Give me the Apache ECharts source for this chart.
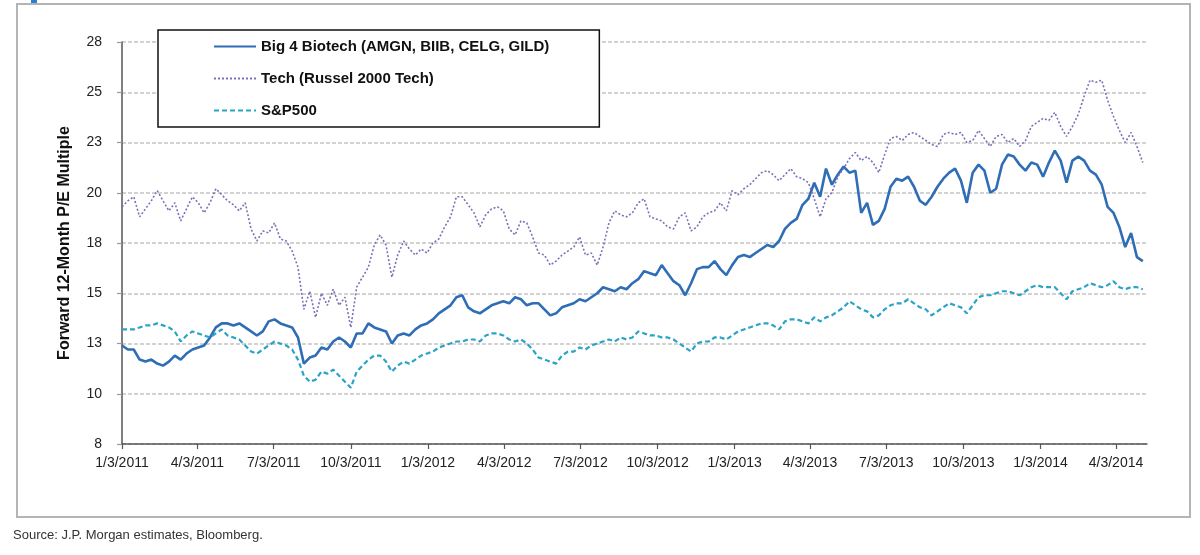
<!DOCTYPE html>
<html><head><meta charset="utf-8">
<script src="https://cdn.jsdelivr.net/npm/echarts@6/dist/echarts.min.js"></script>
<style>html,body{margin:0;padding:0;background:#fff}#c{width:1200px;height:555px}</style>
</head><body><div id="c"></div>
<script>
// x domain: calendar days from 1/3/2011; series sampled weekly
const startYear = 2011, startMonth = 0, startDay = 3;
const dayCount = 1224;
const sampleStepDays = 7;

const tickLabels = ['1/3/2011','4/3/2011','7/3/2011','10/3/2011','1/3/2012','4/3/2012','7/3/2012',
  '10/3/2012','1/3/2013','4/3/2013','7/3/2013','10/3/2013','1/3/2014','4/3/2014'];

const seriesNames = ['Big 4 Biotech (AMGN, BIIB, CELG, GILD)', 'Tech (Russel 2000 Tech)', 'S&P500'];

const biotech = [
12.4,12.2,12.2,11.7,11.6,11.7,11.5,11.4,11.6,11.9,
11.7,12.0,12.2,12.3,12.4,12.8,13.3,13.5,13.5,13.4,
13.5,13.3,13.1,12.9,13.1,13.6,13.7,13.5,13.4,13.3,
12.8,11.5,11.8,11.9,12.3,12.2,
12.6,12.8,12.6,12.3,
13.0,13.0,13.5,13.3,13.2,13.1,12.5,12.9,13.0,12.9,
13.2,13.4,13.5,13.7,14.0,14.2,14.4,14.8,14.9,14.3,
14.1,14.0,14.2,14.4,14.5,14.6,14.5,14.8,14.7,14.4,
14.5,
14.5,14.2,13.9,14.0,14.3,14.4,14.5,14.7,14.6,
14.8,15.0,15.3,15.2,15.1,15.3,15.2,15.5,15.7,16.1,
16.0,15.9,16.4,16.0,15.6,15.4,14.9,15.5,16.2,16.3,
16.3,16.6,16.2,15.9,16.4,16.8,
16.9,16.8,17.0,17.2,
17.4,17.3,17.6,18.2,18.5,18.7,19.4,19.7,20.5,19.8,
21.2,20.4,20.9,21.3,21.0,21.1,19.0,19.5,18.4,18.6,
19.2,20.3,20.7,20.6,20.8,20.3,19.6,19.4,19.8,20.3,
20.7,
21.0,21.2,20.6,19.5,21.0,21.4,21.1,20.0,20.2,
21.4,21.9,21.8,21.4,21.1,21.5,21.4,20.8,21.5,22.1,
21.6,20.5,21.6,21.8,21.6,21.1,20.9,20.4,19.3,19.0,
18.3,17.3,18.0,16.8,16.6
];

const tech = [
19.3,19.6,19.8,18.8,19.2,19.6,20.1,19.6,19.1,19.5,
18.6,19.2,19.8,19.5,19.0,19.5,20.2,19.9,19.6,19.4,
19.1,19.5,18.2,17.6,18.1,18.0,18.5,17.7,17.6,17.1,
16.3,14.2,15.1,13.8,15.0,14.4,
15.2,14.4,14.8,13.3,
15.3,15.8,16.3,17.4,17.9,17.4,15.8,16.9,17.6,17.2,
16.9,17.2,17.0,17.5,17.7,18.3,18.8,19.8,19.8,19.4,
19.0,18.3,18.9,19.2,19.3,19.1,18.2,17.9,18.6,18.5,
17.8,
17.0,16.9,16.4,16.6,16.9,17.1,17.3,17.8,16.9,
17.0,16.4,17.3,18.5,19.1,18.9,18.8,19.0,19.5,19.7,
18.8,18.7,18.6,18.3,18.2,18.8,19.0,18.1,18.3,18.8,
19.0,19.1,19.5,19.1,20.1,19.9,
20.2,20.4,20.7,21.0,
21.1,20.9,20.6,20.9,21.2,20.8,20.7,20.5,19.7,18.8,
19.7,20.0,20.8,21.2,21.7,22.0,21.6,21.8,21.5,21.0,
21.9,22.7,22.8,22.6,22.9,23.0,22.8,22.6,22.4,22.3,
22.9,
23.0,22.9,23.0,22.5,22.6,23.1,22.7,22.3,22.8,
22.9,22.5,22.7,22.3,22.6,23.3,23.5,23.7,23.6,24.0,
23.3,22.8,23.3,23.9,24.8,25.6,25.5,25.6,24.6,23.8,
23.1,22.5,23.0,22.3,21.5
];

const sp500 = [
13.2,13.2,13.2,13.3,13.4,13.4,13.5,13.4,13.3,13.1,
12.6,12.9,13.1,13.0,12.9,12.8,13.0,13.2,12.9,12.8,
12.7,12.4,12.1,12.0,12.2,12.4,12.6,12.5,12.4,12.2,
11.7,10.9,10.6,10.7,11.1,11.0,
11.2,10.9,10.6,10.3,
11.1,11.4,11.7,11.9,11.9,11.6,11.1,11.4,11.6,11.5,
11.7,11.9,12.0,12.1,12.3,12.4,12.5,12.6,12.6,12.7,
12.7,12.6,12.9,13.0,13.0,12.9,12.7,12.6,12.7,12.5,
12.2,
11.8,11.7,11.6,11.5,11.9,12.1,12.1,12.3,12.2,
12.4,12.5,12.6,12.7,12.6,12.8,12.7,12.8,13.1,13.0,
12.9,12.9,12.8,12.8,12.7,12.5,12.3,12.1,12.5,12.6,
12.6,12.8,12.8,12.7,12.9,13.1,
13.2,13.3,13.4,13.5,
13.5,13.4,13.2,13.6,13.7,13.7,13.6,13.5,13.8,13.6,
13.8,13.9,14.1,14.3,14.6,14.4,14.2,14.1,13.8,13.9,
14.2,14.4,14.5,14.5,14.7,14.5,14.3,14.2,13.9,14.1,
14.3,
14.5,14.4,14.3,14.0,14.4,14.8,14.9,14.9,15.0,
15.1,15.1,15.0,14.9,15.1,15.3,15.4,15.3,15.3,15.3,
15.0,14.7,15.1,15.2,15.3,15.5,15.4,15.3,15.4,15.6,
15.3,15.2,15.3,15.3,15.2
];

const categories = [];
for (let d = 0; d < dayCount; d++) {
  const dt = new Date(Date.UTC(startYear, startMonth, startDay + d));
  categories.push((dt.getUTCMonth() + 1) + '/' + dt.getUTCDate() + '/' + dt.getUTCFullYear());
}
const tickSet = new Set(tickLabels);
const toData = arr => arr.map((v, i) => [categories[i * sampleStepDays], v]);
const showTick = (idx, val) => tickSet.has(val);

const FONT = "'Liberation Sans', Arial, Helvetica, sans-serif";
const chart = echarts.init(document.getElementById('c'), null, {renderer: 'canvas'});
chart.setOption({
  animation: false,
  backgroundColor: '#fff',
  textStyle: {fontFamily: FONT},
  grid: {left: 122, right: 53, top: 42, bottom: 111, containLabel: false, outerBoundsMode: 'none'},
  legend: {
    data: seriesNames,
    orient: 'vertical',
    left: 158, top: 30,
    padding: [9, 50, 9, 55],
    itemGap: 17,
    itemWidth: 42, itemHeight: 14,
    borderColor: '#111', borderWidth: 1.5,
    backgroundColor: '#fff',
    align: 'left',
    itemStyle: {color: 'rgba(0,0,0,0)', borderWidth: 0, borderColor: 'rgba(0,0,0,0)'},
    textStyle: {fontSize: 15, fontWeight: 'bold', color: '#111', fontFamily: FONT}
  },
  xAxis: {
    type: 'category',
    data: categories,
    boundaryGap: false,
    axisLine: {lineStyle: {color: '#555', width: 1.5}},
    axisTick: {show: true, interval: showTick, length: 5, lineStyle: {color: '#555', width: 1.2}},
    axisLabel: {interval: showTick, fontSize: 14, color: '#222', margin: 12, fontFamily: FONT},
    splitLine: {show: false}
  },
  yAxis: {
    type: 'value',
    min: 7.5, max: 27.5, interval: 2.5,
    name: 'Forward 12-Month P/E Multiple',
    nameLocation: 'middle',
    nameRotate: 90,
    nameGap: 49,
    nameTextStyle: {fontSize: 16, fontWeight: 'bold', color: '#111', fontFamily: FONT},
    axisLine: {show: true, lineStyle: {color: '#555', width: 1.5}},
    axisTick: {show: true, length: 5, lineStyle: {color: '#999', width: 1.2}},
    axisLabel: {formatter: v => String(Math.round(v)), fontSize: 14, color: '#222', margin: 20, fontFamily: FONT},
    splitLine: {show: true, lineStyle: {color: '#c4c4c4', width: 1.5, type: [4, 2]}}
  },
  series: [
    {name: seriesNames[0], type: 'line', data: toData(biotech), symbol: 'none', showSymbol: false,
     lineStyle: {color: '#2f6db5', width: 2.6}, itemStyle: {color: '#2f6db5'}},
    {name: seriesNames[1], type: 'line', data: toData(tech), symbol: 'none', showSymbol: false,
     lineStyle: {color: '#7d70b8', width: 1.6, type: [2, 2]}, itemStyle: {color: '#7d70b8'}},
    {name: seriesNames[2], type: 'line', data: toData(sp500), symbol: 'none', showSymbol: false,
     lineStyle: {color: '#2aa3c6', width: 2.2, type: [5, 3]}, itemStyle: {color: '#2aa3c6'}}
  ],
  graphic: [
    {type: 'rect', z: -1, silent: true, shape: {x: 17, y: 4, width: 1173, height: 513},
     style: {fill: 'none', stroke: '#b4b4b4', lineWidth: 2}},
    {type: 'rect', silent: true, shape: {x: 31, y: 0, width: 6, height: 3}, style: {fill: '#2a7fd0'}},
    {type: 'text', silent: true, left: 13, top: 529,
     style: {text: 'Source: J.P. Morgan estimates, Bloomberg.', fontSize: 13, fill: '#333', fontFamily: FONT}}
  ]
});
</script></body></html>
